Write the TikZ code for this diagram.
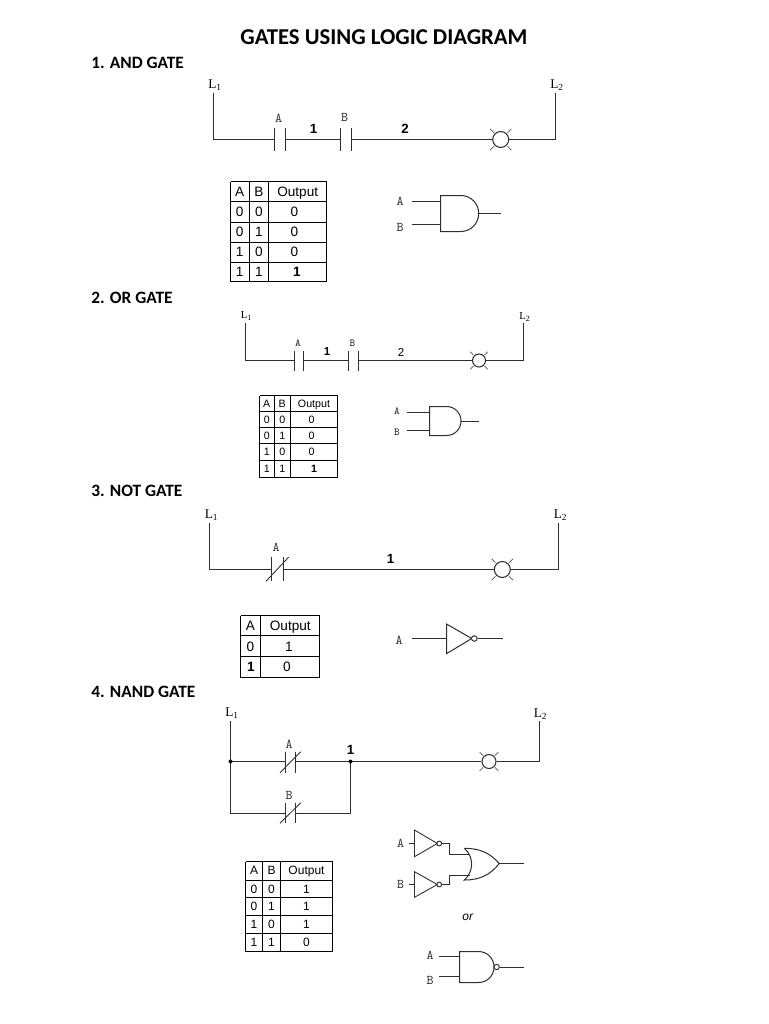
\documentclass[tikz,border=0pt]{standalone}
\usepackage{fontspec}
\setmainfont{Liberation Sans}
\newfontfamily\hdfont{Carlito}
\newfontfamily\lbfont{Liberation Serif}
\definecolor{wire}{HTML}{2E2E2E}
\tikzset{
  wireline/.style={draw=wire,line width=0.75pt},
  thinwire/.style={draw=wire,line width=0.65pt},
  raywire/.style={draw=wire,line width=0.45pt},
  heading/.style={font=\hdfont\bfseries\fontsize{13}{15}\selectfont,anchor=west,inner sep=0pt,text=black},
  maintitle/.style={font=\hdfont\bfseries\fontsize{17}{20}\selectfont,inner sep=0pt,text=black},
  linelabel/.style={font=\lbfont\fontsize{10}{12}\selectfont,inner sep=0pt,text=black},
  smalllinelabel/.style={font=\lbfont\fontsize{8}{10}\selectfont,inner sep=0pt,text=black},
  inlabel/.style={font=\ttfamily\fontsize{10}{12}\selectfont,inner sep=0pt,text=wire},
  smallinlabel/.style={font=\ttfamily\fontsize{8}{10}\selectfont,inner sep=0pt,text=wire},
  numlabel/.style={font=\bfseries\fontsize{10}{12}\selectfont,inner sep=0pt,text=black},
  lampshape/.style={circle,draw=wire,line width=0.8pt,fill=white,inner sep=0pt},
  grid/.style={draw=black,line width=0.75pt},
  bubble/.style={circle,draw=wire,line width=0.7pt,fill=white,inner sep=0pt,minimum size=4pt},
  cellA/.style={font=\fontsize{10.2}{12}\selectfont,inner sep=0pt,text height=7.3pt,text depth=0pt},
  cellB/.style={font=\fontsize{8}{10}\selectfont,inner sep=0pt,text height=5.7pt,text depth=0pt},
  cellC/.style={font=\fontsize{9}{11}\selectfont,inner sep=0pt,text height=6.5pt,text depth=0pt},
}
% contact: name, x left, x right, y, y top, y bottom
\newcommand{\contactno}[6]{%
  \coordinate (#1-l) at (#2,#4); \coordinate (#1-r) at (#3,#4);
  \draw[wireline] (#2,#5) -- (#2,#6);
  \draw[wireline] (#3,#5) -- (#3,#6);}
\newcommand{\contactnc}[8]{%
  \contactno{#1}{#2}{#3}{#4}{#5}{#6}
  \draw[thinwire] (#7,#6) -- (#8,#5);}
% lamp: name, x, y, r
\newcommand{\lampat}[4]{%
  \node[lampshape,minimum size={2*#4*0.75pt}] (#1) at (#2,#3) {};
  \foreach \sx in {-1,1}{\foreach \sy in {-1,1}{
    \draw[raywire] ({#2+\sx*0.85*#4},{#3+\sy*0.85*#4}) -- ({#2+\sx*1.33*#4},{#3+\sy*1.33*#4});}}}
% and body: name, x left, y top, y bottom, x right
\newcommand{\andbody}[5]{%
  \coordinate (#1-e) at (#5,{(#3+#4)/2});
  \draw[wireline] ({#5-(#4-#3)/2},#3) -- (#2,#3) -- (#2,#4) -- ({#5-(#4-#3)/2},#4)
    .. controls ({#5-(#4-#3)*0.22},#4) and (#5,{#4-(#4-#3)*0.22}) .. (#5,{(#3+#4)/2})
    .. controls (#5,{#3+(#4-#3)*0.22}) and ({#5-(#4-#3)*0.22},#3) .. ({#5-(#4-#3)/2},#3);}
\begin{document}
\begin{tikzpicture}[x=0.75pt,y=-0.75pt]
\useasboundingbox (0,0) rectangle (768,1024);
\fill[white] (0,0) rectangle (768,1024);

\node[maintitle] (title) at (384,37) {GATES USING LOGIC DIAGRAM};
\node[heading] (h1) at (91,62.5) {1. AND GATE};
\node[heading] (h2) at (91,297.5) {2. OR GATE};
\node[heading] (h3) at (91,490.5) {3. NOT GATE};
\node[heading] (h4) at (91,691.5) {4. NAND GATE};

% ---------- 1 ladder
\node[linelabel] (a-L1) at (215,85.5) {L\textsubscript{1}};
\node[linelabel] (a-L2) at (557,85.5) {L\textsubscript{2}};
\coordinate (a-t1) at (213.5,93); \coordinate (a-t2) at (555.5,93);
\contactno{a-A}{274.5}{285.5}{139.5}{128}{151}
\contactno{a-B}{340.5}{351.5}{139.5}{128}{151}
\lampat{a-lamp}{500.7}{139.5}{8}
\draw[wireline] (a-t1) |- (a-A-l);
\draw[wireline] (a-A-r) -- (a-B-l);
\draw[wireline] (a-B-r) -- (a-lamp);
\draw[wireline] (a-lamp) -| (a-t2);
\node[inlabel] (a-lA) at (278.5,118) {A};
\node[inlabel] (a-lB) at (344.5,117) {B};
\node[numlabel] (a-n1) at (313.5,128.5) {1};
\node[numlabel] (a-n2) at (405,128.5) {2};
% 1 table
\foreach \gx in {230.5,249.5,268.5,326.5}{\draw[grid] (\gx,181.5) -- (\gx,281.5);}
\foreach \gy in {181.5,201.5,222.5,242.5,262.5,281.5}{\draw[grid] (230.5,\gy) -- (326.5,\gy);}
\begin{scope}[every node/.style={cellA}]
\node (a-h1) at (239.7,191.5) {A}; \node (a-h2) at (259,191.5) {B}; \node (a-h3) at (297.7,191.5) {Output};
\node (a-c11) at (239.7,212) {0}; \node (a-c12) at (259,212) {0}; \node (a-c13) at (294.5,212) {0};
\node (a-c21) at (239.7,232) {0}; \node (a-c22) at (259,232) {1}; \node (a-c23) at (294.5,232) {0};
\node (a-c31) at (239.7,252) {1}; \node (a-c32) at (259,252) {0}; \node (a-c33) at (294.5,252) {0};
\node (a-c41) at (239.7,272) {1}; \node (a-c42) at (259,272) {1}; \node[font=\bfseries\fontsize{10.2}{12}\selectfont] (a-c43) at (297,272) {1};
\end{scope}
% 1 gate
\andbody{a-g}{440.5}{195.5}{231.5}{478.7}
\coordinate (a-ia) at (411.7,201.5); \coordinate (a-ga) at (440.5,201.5);
\coordinate (a-ib) at (411.7,224.5); \coordinate (a-gb) at (440.5,224.5);
\coordinate (a-o) at (500.7,213.5);
\draw[wireline] (a-ia) -- (a-ga);
\draw[wireline] (a-ib) -- (a-gb);
\draw[wireline] (a-g-e) -- (a-o);
\node[inlabel] (a-gA) at (400,201.5) {A};
\node[inlabel] (a-gB) at (400,227) {B};

% ---------- 2 ladder
\node[smalllinelabel] (b-L1) at (246.5,316) {L\textsubscript{1}};
\node[smalllinelabel] (b-L2) at (525,317) {L\textsubscript{2}};
\coordinate (b-t1) at (245.5,323); \coordinate (b-t2) at (523.5,323);
\contactno{b-A}{294.5}{303.5}{360.5}{350.7}{370.7}
\contactno{b-B}{348.5}{358.5}{360.5}{350.7}{370.7}
\lampat{b-lamp}{479}{360.5}{6.5}
\draw[wireline] (b-t1) |- (b-A-l);
\draw[wireline] (b-A-r) -- (b-B-l);
\draw[wireline] (b-B-r) -- (b-lamp);
\draw[wireline] (b-lamp) -| (b-t2);
\node[smallinlabel] (b-lA) at (298,343) {A};
\node[smallinlabel] (b-lB) at (352.5,343) {B};
\node[numlabel,font=\bfseries\fontsize{8.7}{10}\selectfont] (b-n1) at (327,352) {1};
\node[numlabel,font=\fontsize{8.7}{10}\selectfont] (b-n2) at (401,352) {2};
% 2 table
\foreach \gx in {259.5,274.5,290.5,337.5}{\draw[grid,line width=0.65pt] (\gx,395.5) -- (\gx,477.5);}
\foreach \gy in {395.5,411.5,427.5,443.5,460.5,477.5}{\draw[grid,line width=0.65pt] (259.5,\gy) -- (337.5,\gy);}
\begin{scope}[every node/.style={cellB}]
\node (b-h1) at (266.8,403.5) {A}; \node (b-h2) at (282.3,403.5) {B}; \node (b-h3) at (314,403.5) {Output};
\node (b-c11) at (266.8,419.5) {0}; \node (b-c12) at (282.3,419.5) {0}; \node (b-c13) at (311.5,419.5) {0};
\node (b-c21) at (266.8,435.5) {0}; \node (b-c22) at (282.3,435.5) {1}; \node (b-c23) at (311.5,435.5) {0};
\node (b-c31) at (266.8,451.8) {1}; \node (b-c32) at (282.3,451.8) {0}; \node (b-c33) at (311.5,451.8) {0};
\node (b-c41) at (266.8,468.5) {1}; \node (b-c42) at (282.3,468.5) {1}; \node[font=\bfseries\fontsize{8}{10}\selectfont] (b-c43) at (314,468.5) {1};
\end{scope}
% 2 gate
\andbody{b-g}{429.5}{406.5}{435.5}{461}
\coordinate (b-ia) at (407,412.5); \coordinate (b-ga) at (429.5,412.5);
\coordinate (b-ib) at (407,430.5); \coordinate (b-gb) at (429.5,430.5);
\coordinate (b-o) at (479,421);
\draw[thinwire] (b-ia) -- (b-ga);
\draw[thinwire] (b-ib) -- (b-gb);
\draw[thinwire] (b-g-e) -- (b-o);
\node[smallinlabel] (b-gA) at (397,411) {A};
\node[smallinlabel] (b-gB) at (397,432) {B};

% ---------- 3 ladder
\node[linelabel] (c-L1) at (211.5,515) {L\textsubscript{1}};
\node[linelabel] (c-L2) at (560.5,515) {L\textsubscript{2}};
\coordinate (c-t1) at (209.5,523); \coordinate (c-t2) at (558.5,523);
\contactnc{c-A}{271.5}{283.5}{569.5}{557}{581.3}{266}{288.7}
\lampat{c-lamp}{502.3}{569.5}{8}
\draw[wireline] (c-t1) |- (c-A-l);
\draw[wireline] (c-A-r) -- (c-lamp);
\draw[wireline] (c-lamp) -| (c-t2);
\node[inlabel] (c-lA) at (276,547) {A};
\node[numlabel] (c-n1) at (390.5,559) {1};
% 3 table
\foreach \gx in {240.5,260.5,319.5}{\draw[grid] (\gx,615.5) -- (\gx,677.5);}
\foreach \gy in {615.5,635.5,656.5,677.5}{\draw[grid] (240.5,\gy) -- (319.5,\gy);}
\begin{scope}[every node/.style={cellA}]
\node (c-h1) at (250.5,625.5) {A}; \node (c-h2) at (290.3,625.5) {Output};
\node (c-c11) at (250.5,646.5) {0}; \node (c-c12) at (289,646.5) {1};
\node[font=\bfseries\fontsize{10.2}{12}\selectfont] (c-c21) at (251,667) {1}; \node (c-c22) at (287,667) {0};
\end{scope}
% 3 gate
\coordinate (c-ia) at (412.3,638.5); \coordinate (c-ga) at (446.5,638.5);
\coordinate (c-o) at (502.7,638.5);
\draw[wireline] (446.5,624) -- (446.5,653.7) -- (471.7,638.5) -- cycle;
\node[bubble,minimum size=4.2pt] (c-b) at (474.3,638.5) {};
\draw[wireline] (c-ia) -- (c-ga);
\draw[wireline] (c-b) -- (c-o);
\node[inlabel] (c-gA) at (399,640) {A};

% ---------- 4 ladder
\node[linelabel] (d-L1) at (232,713) {L\textsubscript{1}};
\node[linelabel] (d-L2) at (540.5,714) {L\textsubscript{2}};
\coordinate (d-t1) at (230.5,720.7); \coordinate (d-t2) at (539.5,720.7);
\coordinate (d-j1) at (230.5,761.5); \coordinate (d-j2) at (350.5,761.5);
\coordinate (d-c1) at (230.5,813.5); \coordinate (d-c2) at (350.5,813.5);
\contactnc{d-A}{285.5}{295.5}{761.5}{751.7}{772.7}{280}{300.7}
\contactnc{d-B}{285.5}{295.5}{813.5}{802.7}{823.3}{280}{300.7}
\lampat{d-lamp}{489}{761.5}{7}
\draw[wireline] (d-t1) -- (d-j1) -- (d-c1) -- (d-B-l);
\draw[wireline] (d-B-r) -- (d-c2) -- (d-j2);
\draw[wireline] (d-j1) -- (d-A-l);
\draw[wireline] (d-A-r) -- (d-j2) -- (d-lamp);
\draw[wireline] (d-lamp) -| (d-t2);
\fill[black] (d-j1) circle[radius=1.5pt];
\fill[black] (d-j2) circle[radius=1.5pt];
\node[inlabel] (d-lA) at (289,744) {A};
\node[inlabel] (d-lB) at (289,795) {B};
\node[numlabel] (d-n1) at (350.5,750) {1};
% 4 table
\foreach \gx in {245.5,262.5,280.5,332.5}{\draw[grid] (\gx,861.5) -- (\gx,951.5);}
\foreach \gy in {861.5,880.5,897.5,915.5,933.5,951.5}{\draw[grid] (245.5,\gy) -- (332.5,\gy);}
\begin{scope}[every node/.style={cellC}]
\node (d-h1) at (254,870.5) {A}; \node (d-h2) at (271.5,870.5) {B}; \node (d-h3) at (306.5,870.5) {Output};
\node (d-c11) at (254,889) {0}; \node (d-c12) at (271.5,889) {0}; \node (d-c13) at (306.5,889) {1};
\node (d-c21) at (254,906.5) {0}; \node (d-c22) at (271.5,906.5) {1}; \node (d-c23) at (306.5,906.5) {1};
\node (d-c31) at (254,924) {1}; \node (d-c32) at (271.5,924) {0}; \node (d-c33) at (306.5,924) {1};
\node (d-c41) at (254,942) {1}; \node (d-c42) at (271.5,942) {1}; \node (d-c43) at (306.5,942) {0};
\end{scope}
% 4 NOT + OR network
\draw[thinwire] (414.5,830) -- (414.5,856.7) -- (437.3,843.5) -- cycle;
\draw[thinwire] (414.5,871.7) -- (414.5,897.3) -- (437.3,884.5) -- cycle;
\node[bubble,minimum size=3.6pt] (d-b1) at (439.3,843.5) {};
\node[bubble,minimum size=3.6pt] (d-b2) at (439.3,884.5) {};
\coordinate (d-ia) at (409.3,843.5); \coordinate (d-na) at (414.5,843.5);
\coordinate (d-ib) at (409.3,884.5); \coordinate (d-nb) at (414.5,884.5);
\coordinate (d-ka) at (449.5,843.5); \coordinate (d-ma) at (449.5,854.5); \coordinate (d-oa) at (469,854.5);
\coordinate (d-kb) at (449.5,884.5); \coordinate (d-mb) at (449.5,875.5); \coordinate (d-ob) at (469.5,875.5);
\coordinate (d-ort) at (464.3,848.3); \coordinate (d-orb) at (464.3,880); \coordinate (d-tip) at (499.3,863.5);
\coordinate (d-oo) at (524.3,863.5);
\draw[thinwire] (d-ia) -- (d-na);
\draw[thinwire] (d-ib) -- (d-nb);
\draw[thinwire] (d-b1) -- (d-ka) -- (d-ma) -- (d-oa);
\draw[thinwire] (d-b2) -- (d-kb) -- (d-mb) -- (d-ob);
\draw[wireline] (d-ort) .. controls (474,856) and (474,872) .. (d-orb)
  .. controls (480,880) and (490,875) .. (d-tip)
  .. controls (490,853) and (480,848.3) .. (d-ort);
\draw[thinwire] (d-tip) -- (d-oo);
\node[inlabel] (d-gA1) at (400.7,843) {A};
\node[inlabel] (d-gB1) at (400.7,884) {B};
\node[font=\itshape\fontsize{9}{11}\selectfont,inner sep=0pt] (d-or) at (467.7,917.5) {or};
% 4 NAND
\andbody{d-g}{459.5}{951.5}{982.5}{494}
\node[bubble,minimum size=4pt] (d-b3) at (496.7,967) {};
\coordinate (d-ia2) at (439.3,956.5); \coordinate (d-ga2) at (459.5,956.5);
\coordinate (d-ib2) at (439.3,976.5); \coordinate (d-gb2) at (459.5,976.5);
\coordinate (d-o2) at (524.3,967);
\draw[thinwire] (d-ia2) -- (d-ga2);
\draw[thinwire] (d-ib2) -- (d-gb2);
\draw[thinwire] (d-b3) -- (d-o2);
\node[inlabel] (d-gA2) at (430,955) {A};
\node[inlabel] (d-gB2) at (430,980.5) {B};
\end{tikzpicture}
\end{document}
